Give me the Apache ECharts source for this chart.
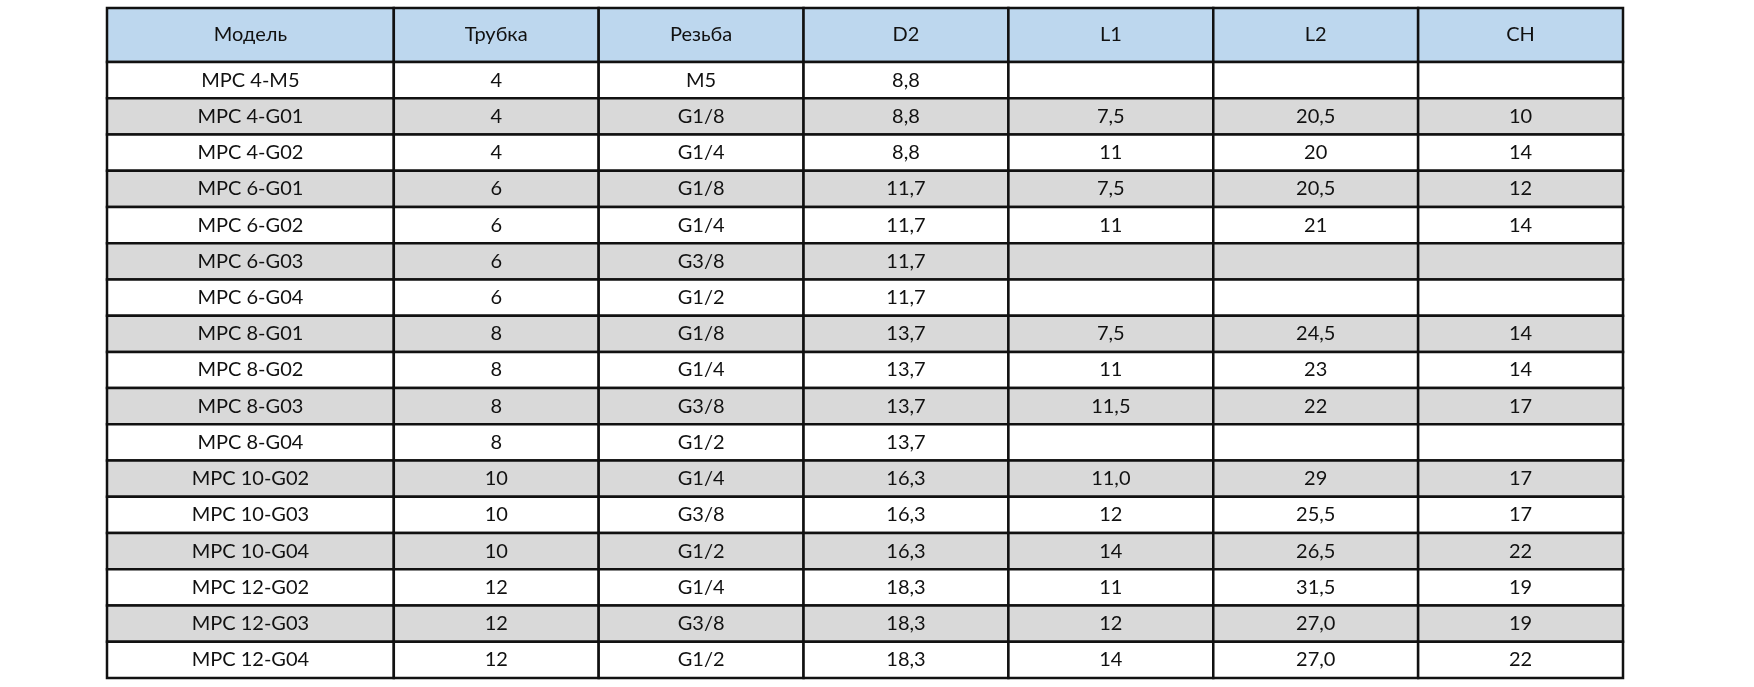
<!DOCTYPE html>
<html>
<head>
<meta charset="utf-8">
<script src="https://cdn.jsdelivr.net/npm/echarts@6/dist/echarts.min.js"></script>
<style>html,body{margin:0;padding:0;background:#fff}#chart{width:1754px;height:687px}</style>
</head>
<body>
<div id="chart"></div>
<script>
// table data
const headers = ['Модель', 'Трубка', 'Резьба', 'D2', 'L1', 'L2', 'CH'];
const models = ['MPC 4-M5', 'MPC 4-G01', 'MPC 4-G02', 'MPC 6-G01', 'MPC 6-G02', 'MPC 6-G03', 'MPC 6-G04',
  'MPC 8-G01', 'MPC 8-G02', 'MPC 8-G03', 'MPC 8-G04', 'MPC 10-G02', 'MPC 10-G03', 'MPC 10-G04',
  'MPC 12-G02', 'MPC 12-G03', 'MPC 12-G04'];
const tube = ['4', '4', '4', '6', '6', '6', '6', '8', '8', '8', '8', '10', '10', '10', '12', '12', '12'];
const thread = ['M5', 'G1/8', 'G1/4', 'G1/8', 'G1/4', 'G3/8', 'G1/2', 'G1/8', 'G1/4', 'G3/8', 'G1/2',
  'G1/4', 'G3/8', 'G1/2', 'G1/4', 'G3/8', 'G1/2'];
const d2 = ['8,8', '8,8', '8,8', '11,7', '11,7', '11,7', '11,7', '13,7', '13,7', '13,7', '13,7',
  '16,3', '16,3', '16,3', '18,3', '18,3', '18,3'];
const l1 = ['', '7,5', '11', '7,5', '11', '', '', '7,5', '11', '11,5', '', '11,0', '12', '14', '11', '12', '14'];
const l2 = ['', '20,5', '20', '20,5', '21', '', '', '24,5', '23', '22', '', '29', '25,5', '26,5', '31,5', '27,0', '27,0'];
const ch = ['', '10', '14', '12', '14', '', '', '14', '14', '17', '', '17', '17', '22', '19', '19', '22'];

const columns = [models, tube, thread, d2, l1, l2, ch];
const colWidths = [1.4, 1, 1, 1, 1, 1, 1];
const colStart = [];
colWidths.reduce((acc, w) => { colStart.push(acc); return acc + w; }, 0);
const totalW = colWidths.reduce((a, b) => a + b, 0);
const rowIdx = models.map((_, i) => String(i));

const headerData = headers.map((h, c) => [colStart[c], '0', h, c]);
const bodyData = [];
columns.forEach((col, c) => {
  col.forEach((v, r) => bodyData.push([colStart[c], String(r), v, c]));
});

function cell(fillFn) {
  return function (params, api) {
    const c = api.value(3);
    const yCat = api.value(1);
    const x0 = api.coord([api.value(0), yCat]);
    const x1 = api.coord([api.value(0) + colWidths[c], yCat]);
    const h = api.size([0, 1])[1];
    const x = x0[0], y = x0[1] - h / 2, w = x1[0] - x0[0];
    return {
      type: 'group',
      children: [
        { type: 'rect', shape: { x, y, width: w, height: h },
          style: { fill: fillFn(+yCat), stroke: '#111', lineWidth: 2.5 } },
        { type: 'text', style: { x: x + w / 2, y: y + h / 2, text: api.value(2),
          fill: '#111', font: '20px Lato, "Open Sans", sans-serif', align: 'center', verticalAlign: 'middle' } }
      ]
    };
  };
}

const chart = echarts.init(document.getElementById('chart'));
const hiddenX = { type: 'value', min: 0, max: totalW, show: false };
chart.setOption({
  animation: false,
  grid: [
    { left: 107, right: 131, top: 8, height: 54 },
    { left: 107, right: 131, top: 62, height: 616 }
  ],
  xAxis: [Object.assign({ gridIndex: 0 }, hiddenX), Object.assign({ gridIndex: 1 }, hiddenX)],
  yAxis: [
    { type: 'category', gridIndex: 0, data: ['0'], show: false },
    { type: 'category', gridIndex: 1, data: rowIdx, inverse: true, show: false }
  ],
  series: [
    { type: 'custom', xAxisIndex: 0, yAxisIndex: 0, data: headerData,
      renderItem: cell(() => '#bdd7ee'), encode: { x: 0, y: 1 } },
    { type: 'custom', xAxisIndex: 1, yAxisIndex: 1, data: bodyData,
      renderItem: cell(r => (r % 2 === 1 ? '#d9d9d9' : '#ffffff')), encode: { x: 0, y: 1 } }
  ]
});
</script>
</body>
</html>
